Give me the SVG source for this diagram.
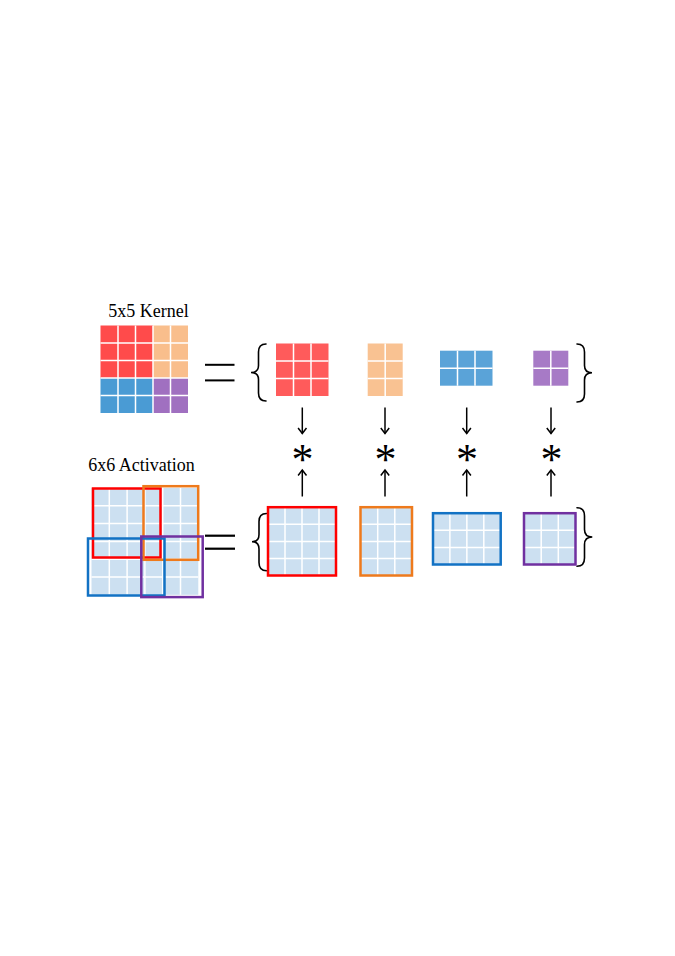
<svg xmlns="http://www.w3.org/2000/svg" width="675" height="956" viewBox="0 0 675 956">
<defs>
<style>
.lbl{font-family:"Liberation Serif","Times New Roman",serif;font-size:18px;fill:#000}
.ast{font-family:"Liberation Serif","Times New Roman",serif;font-size:44px;fill:#000;text-anchor:middle}
.gl{stroke:#fff;stroke-width:1.5;fill:none}
.kr{fill:#FF4B4B}.ko{fill:#F9BE8C}.kb{fill:#4A9BD4}.kp{fill:#A070C0}
.sr{fill:#FF5B5B}.so{fill:#F9C292}.sb{fill:#5AA3D8}.sp{fill:#A77AC6}
.act{fill:#CCE0F1}
.box{fill:none;stroke-width:2.5}
.brace{fill:none;stroke:#000;stroke-width:1.6;stroke-linecap:round}
.eq{fill:#000}
.arr{stroke:#000;stroke-width:1.5;fill:none}
</style>
<marker id="ah" viewBox="-8 -6 10 12" markerWidth="10" markerHeight="12" refX="0" refY="0" orient="auto" markerUnits="userSpaceOnUse" overflow="visible">
<path d="M-5.5,-4.2 L0,0 L-5.5,4.2" fill="none" stroke="#000" stroke-width="1.5" stroke-linejoin="miter"/>
</marker>
</defs>
<rect width="675" height="956" fill="#fff"/>

<g id="kernel">
<text class="lbl" x="108.3" y="317">5x5 Kernel</text>
<rect class="kr" x="100.5" y="325.5" width="52.5" height="52.5"/>
<rect class="ko" x="153" y="325.5" width="35" height="52.5"/>
<rect class="kb" x="100.5" y="378" width="52.5" height="35"/>
<rect class="kp" x="153" y="378" width="35" height="35"/>
<path class="gl" d="M118,325.5V413M135.5,325.5V413M153,325.5V413M170.5,325.5V413M100.5,343H188M100.5,360.5H188M100.5,378H188M100.5,395.5H188"/>
</g>

<g id="eq-top">
<rect class="eq" x="205" y="363.8" width="29.5" height="2"/>
<rect class="eq" x="205" y="379.4" width="29.5" height="2"/>
</g>

<g id="brace-top">
<path class="brace" d="M266,344 C260.5,344 258.5,347 258.5,352 L258.5,365.5 C258.5,370 256,372.5 251,372.5 C256,372.5 258.5,375 258.5,379.5 L258.5,393 C258.5,398 260.5,401 266,401"/>
<path class="brace" d="M577,344 C582.5,344 584.5,347 584.5,352 L584.5,365.5 C584.5,370 587,372.7 592,372.7 C587,372.7 584.5,375.5 584.5,380 L584.5,394 C584.5,399 582.5,402 577,402"/>
</g>

<g id="sub-kernel-red">
<rect class="sr" x="276" y="343.5" width="52.5" height="52.5"/>
<path class="gl" d="M293.5,343.5V396M311,343.5V396M276,361H328.5M276,378.5H328.5"/>
</g>
<g id="sub-kernel-orange">
<rect class="so" x="367.7" y="343.5" width="35" height="52.5"/>
<path class="gl" d="M385.2,343.5V396M367.7,361H402.7M367.7,378.5H402.7"/>
</g>
<g id="sub-kernel-blue">
<rect class="sb" x="440" y="350.7" width="52.5" height="35"/>
<path class="gl" d="M457.5,350.7V385.7M475,350.7V385.7M440,368.2H492.5"/>
</g>
<g id="sub-kernel-purple">
<rect class="sp" x="533.3" y="350.7" width="35" height="35"/>
<path class="gl" d="M550.8,350.7V385.7M533.3,368.2H568.3"/>
</g>

<g id="connectors">
<path class="arr" d="M302.3,407.5V433.5" marker-end="url(#ah)"/>
<path class="arr" d="M385,407.5V433.5" marker-end="url(#ah)"/>
<path class="arr" d="M466.7,407.5V433.5" marker-end="url(#ah)"/>
<path class="arr" d="M551,407.5V433.5" marker-end="url(#ah)"/>
<path class="arr" d="M302.3,496.5V470" marker-end="url(#ah)"/>
<path class="arr" d="M385,496.5V470" marker-end="url(#ah)"/>
<path class="arr" d="M466.7,496.5V470" marker-end="url(#ah)"/>
<path class="arr" d="M551,496.5V470" marker-end="url(#ah)"/>
</g>

<g id="conv-ops">
<text class="ast" x="302.5" y="474">*</text>
<text class="ast" x="385.5" y="474">*</text>
<text class="ast" x="467" y="474">*</text>
<text class="ast" x="551.5" y="474">*</text>
</g>

<g id="activation">
<text class="lbl" x="88.3" y="470.7">6x6 Activation</text>
<rect class="act" x="91.5" y="488" width="106.8" height="106.8"/>
<path class="gl" d="M109.3,488V594.8M127.1,488V594.8M144.9,488V594.8M162.7,488V594.8M180.5,488V594.8M91.5,505.8H198.3M91.5,523.6H198.3M91.5,541.4H198.3M91.5,559.2H198.3M91.5,577H198.3"/>
<rect class="box" x="93" y="488.5" width="67.5" height="69" stroke="#FF0000"/>
<rect class="box" x="143.5" y="486.2" width="54.7" height="73.6" stroke="#EE7A1C"/>
<rect class="box" x="88" y="538.5" width="76.5" height="57" stroke="#1272C4"/>
<rect class="box" x="141.3" y="536.5" width="61.4" height="60.6" stroke="#7030A0"/>
</g>

<g id="eq-bottom">
<rect class="eq" x="205" y="534.6" width="30" height="2.2"/>
<rect class="eq" x="205" y="547.6" width="30" height="2.2"/>
</g>

<g id="brace-bottom">
<path class="brace" d="M266.5,513.5 C261,513.5 259,516.5 259,521.5 L259,534.5 C259,539 256.5,541.7 252,541.7 C256.5,541.7 259,544.5 259,549 L259,562.5 C259,567.5 261,570.8 266.5,570.8"/>
<path class="brace" d="M577,507.8 C582.5,507.8 584.5,511 584.5,516 L584.5,529.5 C584.5,534 587,537 592.3,537 C587,537 584.5,540 584.5,544.5 L584.5,558 C584.5,563 582.5,566.3 577,566.3"/>
</g>

<g id="patch-red">
<rect class="act" x="268" y="507.2" width="68" height="68.3"/>
<path class="gl" d="M285,507.2V575.5M302,507.2V575.5M319,507.2V575.5M268,524.3H336M268,541.4H336M268,558.5H336"/>
<rect class="box" x="268" y="507.2" width="68" height="68.3" stroke="#FF0000"/>
</g>
<g id="patch-orange">
<rect class="act" x="360.5" y="507.2" width="51.5" height="68.3"/>
<path class="gl" d="M377.7,507.2V575.5M394.8,507.2V575.5M360.5,524.3H412M360.5,541.4H412M360.5,558.5H412"/>
<rect class="box" x="360.5" y="507.2" width="51.5" height="68.3" stroke="#EE7A1C"/>
</g>
<g id="patch-blue">
<rect class="act" x="433" y="513.2" width="67.7" height="51.3"/>
<path class="gl" d="M449.9,513.2V564.5M466.85,513.2V564.5M483.8,513.2V564.5M433,530.3H500.7M433,547.4H500.7"/>
<rect class="box" x="433" y="513.2" width="67.7" height="51.3" stroke="#1272C4"/>
</g>
<g id="patch-purple">
<rect class="act" x="524" y="513.2" width="51.5" height="51.3"/>
<path class="gl" d="M541.2,513.2V564.5M558.3,513.2V564.5M524,530.3H575.5M524,547.4H575.5"/>
<rect class="box" x="524" y="513.2" width="51.5" height="51.3" stroke="#7030A0"/>
</g>
</svg>
